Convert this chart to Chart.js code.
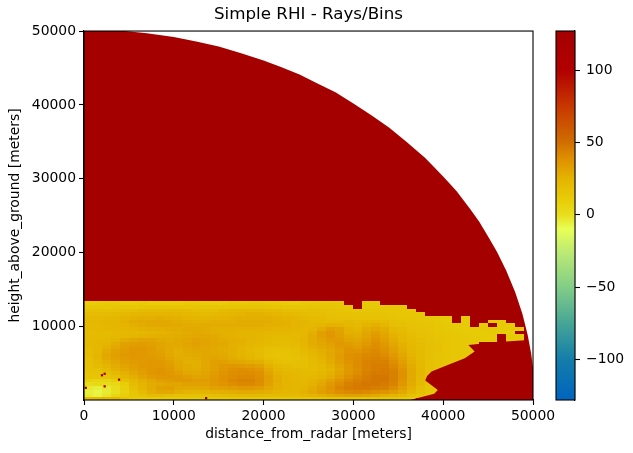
<!DOCTYPE html>
<html lang="en">
<head>
    <meta charset="UTF-8">
    <title>Simple RHI - Rays/Bins</title>
    <script src="https://cdn.jsdelivr.net/npm/chart.js"></script>
    <style>
        body { margin: 0; background: #fff; }
        canvas { position: absolute; top: 0; }
        #rhi { left: 0; }
        #colorbar { left: 545px; }
    </style>
</head>
<body>
    <canvas id="rhi" width="633" height="453"></canvas>
    <canvas id="colorbar" width="88" height="453"></canvas>

    <script>
        // axis ticks
        const xTicks = [0, 10000, 20000, 30000, 40000, 50000];
        const yTicks = [10000, 20000, 30000, 40000, 50000];
        const barTicks = [-100, -50, 0, 50, 100];

        // outer edge of the sweep
        const edgeX = [0, 4600, 7000, 10000, 12500, 15000, 17500, 20000, 22000, 24000, 26000, 28000, 30000, 32000, 34000, 36000, 38000, 40000, 41500, 43000, 44000, 45000, 46000, 47000, 48000, 48800, 49400, 49800, 50000, 50000];
        const edgeY = [50000, 50000, 49700, 49200, 48600, 47900, 47000, 46000, 45100, 44100, 42900, 41700, 40200, 38600, 36900, 34900, 32800, 30300, 28300, 25900, 24200, 22200, 20100, 17600, 14700, 11800, 8900, 6300, 4500, 50];
        // lower edge of the echo, where the fill value takes over again
        const wedgeX = [36300, 39000, 39400, 38000, 38200, 38700, 40500, 42400, 43500, 42800, 46100, 49100];
        const wedgeY = [50, 900, 1400, 2700, 3300, 3900, 4800, 5700, 6600, 7500, 7900, 8150];
        const FILL_VALUE = 127;

        // colormap stops
        const cmapValues = [-128, -100, -75, -50, -25, -10, 0, 10, 25, 40, 50, 75, 100, 127];
        const cmapColors = [
            [0, 100, 190], [20, 125, 170], [70, 165, 150], [130, 205, 135], [190, 235, 115],
            [232, 255, 85], [232, 222, 30], [232, 205, 8], [228, 180, 0], [222, 140, 0],
            [208, 110, 0], [200, 55, 0], [178, 0, 0], [165, 0, 0]
        ];

        // column centres of the echo grid, 1 km wide
        const columnX = [
            500, 1500, 2500, 3500, 4500, 5500, 6500, 7500, 8500, 9500,
            10500, 11500, 12500, 13500, 14500, 15500, 16500, 17500, 18500, 19500,
            20500, 21500, 22500, 23500, 24500, 25500, 26500, 27500, 28500, 29500,
            30500, 31500, 32500, 33500, 34500, 35500, 36500, 37500, 38500, 39500,
            40500, 41500, 42500, 43500, 44500, 45500, 46500, 47500, 48500, 49500
        ];
        const rowHeights = [
            13150, 12650, 12150, 11650, 11150, 10650, 10150, 9650, 9150,
            8650, 8150, 7650, 7150, 6650, 6150, 5650, 5150, 4650,
            4150, 3650, 3150, 2650, 2150, 1650, 1150, 650, 150
        ];

        // echo values per height row, top to bottom
        const row13150 = [10,10,11,11,10,10,11,10,10,10, 10,11,11,10,10,10,11,11,12,12, 11,11,10,10,11,12,12,13,13,127, 127,12,12];
        const row12650 = [13,13,13,14,14,14,14,15,15,15, 15,15,15,14,14,14,15,15,16,16, 15,15,14,14,14,15,15,15,14,14, 127,13,13,13,13,12];
        const row12150 = [17,17,17,18,18,19,20,20,20,21, 21,20,19,18,18,20,21,22,22,22, 21,20,19,18,18,18,18,17,16,15, 14,14,15,15,14,14,13];
        const row11650 = [20,20,20,21,22,23,24,25,25,25, 24,23,22,21,22,23,24,25,26,26, 25,24,22,21,20,19,19,18,17,17, 16,16,16,16,15,14,14,13];
        const row11150 = [22,22,23,23,25,26,27,27,28,27, 26,25,24,24,25,25,26,27,27,27, 27,26,25,24,22,21,20,19,18,18, 17,17,17,17,16,15,15,14,13,12, 12,127,11];
        const row10650 = [23,23,24,24,26,28,29,30,30,29, 28,27,26,26,27,27,27,28,28,28, 28,27,26,25,24,22,21,20,20,22, 20,21,22,20,18,17,16,15,14,13, 12,127,11,127,127,11,11];
        const row10150 = [22,22,23,24,25,27,28,29,30,29, 29,28,28,28,28,28,28,28,28,28, 27,27,26,25,24,23,24,26,25,23, 22,25,27,24,19,18,17,16,15,14, 13,12,12,127,11,127,11,11];
        const row9650 = [22,22,23,23,24,25,26,27,27,28, 28,29,29,28,27,27,27,26,26,26, 26,25,25,24,23,24,28,33,31,26, 24,28,30,28,22,20,18,17,16,14, 13,12,11,11,12,12,11,11,10];
        const row9150 = [20,21,21,22,22,23,23,24,25,26, 27,28,29,28,27,26,26,25,25,25, 24,24,23,22,23,27,33,36,32,27, 26,30,33,29,24,21,19,18,16,15, 14,13,12,11,11,12,11,10];
        const row8650 = [21,21,21,22,23,24,25,26,27,27, 28,29,30,30,29,27,26,25,25,24, 23,22,22,22,24,28,33,36,33,29, 28,31,35,31,26,23,20,18,17,16, 15,14,12,12,11,11,127,11,11];
        const row8150 = [22,22,23,24,28,30,31,31,29,28, 29,30,32,31,30,28,27,26,25,24, 22,21,21,22,25,28,31,34,34,31, 30,33,37,33,28,24,21,19,18,16, 15,14,13,12,12,11,127,11,11];
        const row7650 = [22,23,24,28,32,33,34,33,31,29, 29,31,32,31,30,29,27,26,24,23, 21,20,20,21,24,28,30,32,35,34, 32,35,39,35,30,26,22,20,18,17, 15,14,13,12];
        const row7150 = [21,22,26,30,33,35,35,34,31,29, 28,30,31,30,29,28,27,25,23,21, 19,18,19,20,23,26,29,31,34,36, 34,38,40,37,32,27,23,20,18,17, 15,14,13,12];
        const row6650 = [20,23,28,32,34,36,36,34,32,29, 27,29,30,30,29,28,27,25,22,20, 18,17,17,19,21,24,27,30,33,37, 37,39,41,38,33,28,24,21,18,17, 15,14,13,12];
        const row6150 = [20,24,30,33,35,36,35,34,33,30, 27,28,29,30,30,29,27,25,23,20, 17,16,16,18,20,23,26,30,34,38, 39,41,42,40,35,30,25,21,18,16, 15,14,13,12];
        const row5650 = [19,23,29,32,34,35,35,35,34,31, 28,27,28,30,31,30,28,26,24,22, 19,17,16,17,19,22,25,29,34,38, 40,42,43,42,37,31,26,21,18,16, 15,14,13];
        const row5150 = [19,22,27,30,33,34,35,36,35,33, 29,27,27,30,33,33,31,30,28,27, 22,19,18,18,19,21,24,28,33,37, 40,43,44,44,39,33,27,22,18,16, 14,13];
        const row4650 = [18,20,24,28,31,33,35,36,36,34, 30,28,27,30,33,35,36,35,34,32, 26,22,20,19,19,20,22,26,31,36, 40,43,45,45,41,35,28,22,18,16, 14];
        const row4150 = [17,18,21,26,29,32,34,36,37,35, 31,28,28,30,33,36,38,39,38,36, 29,24,22,21,20,20,22,25,30,35, 39,43,45,46,43,37,29,23,18,16];
        const row3650 = [16,16,18,22,26,30,33,36,37,36, 33,30,29,31,34,37,39,40,40,38, 31,26,24,22,21,21,23,26,31,36, 40,44,46,46,44,38,29,23,18];
        const row3150 = [15,14,15,18,23,27,31,34,36,36, 35,33,31,32,35,38,40,41,41,39, 33,27,25,23,22,23,25,28,33,38, 42,45,47,47,44,38,29,22,18];
        const row2650 = [8,6,6,10,18,23,27,30,33,34, 35,35,34,34,36,38,41,43,43,40, 33,28,25,24,23,25,28,32,37,41, 44,46,47,47,44,37,29,22,17];
        const row2150 = [1,3,2,4,10,20,25,28,30,31, 31,32,32,33,35,37,39,41,41,39, 32,27,25,24,24,26,30,35,40,44, 46,47,47,46,43,36,28,21,16];
        const row1650 = [-3,-5,-3,1,8,18,24,28,32,33, 30,29,29,30,32,33,34,35,35,34, 30,27,25,24,25,28,32,37,42,45, 46,46,45,44,40,33,26,19,15,14];
        const row1150 = [-5,-7,-4,0,7,15,21,27,30,30, 27,25,24,25,26,27,28,29,29,28, 27,25,24,24,26,29,33,36,39,41, 42,41,39,37,34,29,23,18,14,13];
        const row650 = [-4,-6,-2,5,10,14,17,20,20,19, 18,17,17,18,19,20,21,22,22,22, 21,21,21,21,23,25,27,29,31,32, 32,31,29,27,25,22,18,15,13];
        const row150 = [20,22,22,22,16,12,11,11,11,12, 12,12,12,13,13,13,14,14,14,13, 13,13,13,13,14,14,14,15,15,15, 15,14,14,13,13,12,11];
        const echoRows = [
            row13150, row12650, row12150, row11650, row11150, row10650, row10150, row9650, row9150,
            row8650, row8150, row7650, row7150, row6650, row6150, row5650, row5150, row4650,
            row4150, row3650, row3150, row2650, row2150, row1650, row1150, row650, row150
        ];

        // isolated fill-value gates inside the echo
        const gateX = [2300, 2000, 3900, 200, 2300, 13600];
        const gateY = [3600, 3400, 2800, 1700, 1900, 300];

        function colorFor(value) {
            let i = 0;
            while (i < cmapValues.length - 2 && value > cmapValues[i + 1]) i++;
            const t = (value - cmapValues[i]) / (cmapValues[i + 1] - cmapValues[i]);
            const c = cmapColors[i].map((v, k) => Math.round(v + (cmapColors[i + 1][k] - v) * t));
            return 'rgb(' + c.join(',') + ')';
        }

        // each echo cell is a point drawn with a small rectangle sized from the scales
        const cellCache = {};
        function cellStyle(ctx) {
            const xs = ctx.chart.scales.x;
            const ys = ctx.chart.scales.y;
            const w = Math.max(1, Math.ceil(xs.getPixelForValue(1000) - xs.getPixelForValue(0)) || 1);
            const h = Math.max(1, Math.ceil(ys.getPixelForValue(0) - ys.getPixelForValue(500)) || 1);
            const key = ctx.raw.v + '_' + w + '_' + h;
            if (!cellCache[key]) {
                const cell = document.createElement('canvas');
                cell.width = w;
                cell.height = h;
                const g = cell.getContext('2d');
                g.fillStyle = colorFor(ctx.raw.v);
                g.fillRect(0, 0, w, h);
                cellCache[key] = cell;
            }
            return cellCache[key];
        }

        const echoPoints = [];
        echoRows.forEach((row, r) => {
            row.forEach((value, c) => {
                echoPoints.push({ x: columnX[c], y: rowHeights[r], v: value });
            });
        });

        const spines = {
            id: 'spines',
            afterDraw(chart) {
                const a = chart.chartArea;
                const ctx = chart.ctx;
                ctx.save();
                ctx.strokeStyle = '#000';
                ctx.lineWidth = 1.1;
                ctx.strokeRect(a.left, a.top, a.right - a.left, a.bottom - a.top);
                ctx.restore();
            }
        };

        Chart.defaults.font.family = '"DejaVu Sans"';
        Chart.defaults.font.size = 13.9;
        Chart.defaults.color = '#000';

        new Chart(document.getElementById('rhi'), {
            type: 'scatter',
            data: {
                datasets: [
                    {
                        label: 'gates',
                        order: 1,
                        data: gateX.map((x, i) => ({ x: x, y: gateY[i] })),
                        pointStyle: 'rect',
                        pointRadius: 1.6,
                        pointBackgroundColor: colorFor(FILL_VALUE),
                        pointBorderWidth: 0
                    },
                    {
                        label: 'wedge',
                        order: 2,
                        data: wedgeX.map((x, i) => ({ x: x, y: wedgeY[i] })),
                        showLine: true,
                        fill: 'start',
                        borderWidth: 0,
                        backgroundColor: colorFor(FILL_VALUE),
                        pointRadius: 0
                    },
                    {
                        label: 'echo',
                        order: 3,
                        data: echoPoints,
                        pointStyle: cellStyle,
                        pointRadius: 3
                    },
                    {
                        label: 'sweep',
                        order: 4,
                        data: edgeX.map((x, i) => ({ x: x, y: edgeY[i] })),
                        showLine: true,
                        fill: 'start',
                        borderWidth: 0,
                        backgroundColor: colorFor(FILL_VALUE),
                        pointRadius: 0
                    }
                ]
            },
            options: {
                responsive: false,
                animation: false,
                layout: { padding: { right: 100 } },
                plugins: {
                    legend: { display: false },
                    tooltip: { enabled: false },
                    title: {
                        display: true,
                        text: 'Simple RHI - Rays/Bins',
                        fullSize: false,
                        color: '#000',
                        font: { size: 16.7, weight: 'normal' },
                        padding: { top: 5, bottom: 6 }
                    }
                },
                scales: {
                    x: {
                        type: 'linear',
                        min: 0,
                        max: 50000,
                        afterBuildTicks: scale => { scale.ticks = xTicks.map(v => ({ value: v })); },
                        afterFit: scale => { scale.height = 53; },
                        ticks: { autoSkip: false, maxRotation: 0, padding: 3, callback: v => String(v) },
                        grid: { drawOnChartArea: false, color: '#000', tickLength: 5, tickWidth: 1.1 },
                        border: { color: '#000', width: 1.1 },
                        title: { display: true, text: 'distance_from_radar [meters]', padding: { top: 2, bottom: 10 } }
                    },
                    y: {
                        type: 'linear',
                        min: 50,
                        max: 50000,
                        afterBuildTicks: scale => { scale.ticks = yTicks.map(v => ({ value: v })); },
                        afterFit: scale => { scale.width = 84; },
                        ticks: { autoSkip: false, padding: 3, callback: v => String(v) },
                        grid: { drawOnChartArea: false, color: '#000', tickLength: 5, tickWidth: 1.1 },
                        border: { color: '#000', width: 1.1 },
                        title: { display: true, text: 'height_above_ground [meters]', padding: { top: 7, bottom: 6 } }
                    }
                }
            },
            plugins: [spines]
        });

        // colorbar: one floating bar over the whole range, filled from the colormap stops
        const barRange = [cmapValues[0], cmapValues[cmapValues.length - 1]];

        function barGradient(ctx) {
            const scale = ctx.chart.scales.y;
            if (!scale) return colorFor(0);
            const bottom = scale.getPixelForValue(barRange[0]);
            const top = scale.getPixelForValue(barRange[1]);
            if (!isFinite(bottom) || !isFinite(top)) return colorFor(0);
            const grad = ctx.chart.ctx.createLinearGradient(0, bottom, 0, top);
            cmapValues.forEach((v, i) => {
                grad.addColorStop((v - barRange[0]) / (barRange[1] - barRange[0]), 'rgb(' + cmapColors[i].join(',') + ')');
            });
            return grad;
        }

        new Chart(document.getElementById('colorbar'), {
            type: 'bar',
            data: {
                labels: [''],
                datasets: [{
                    data: [barRange],
                    backgroundColor: barGradient,
                    borderWidth: 0,
                    categoryPercentage: 1,
                    barPercentage: 1
                }]
            },
            options: {
                responsive: false,
                animation: false,
                layout: { padding: { left: 11, top: 31, bottom: 53 } },
                plugins: { legend: { display: false }, tooltip: { enabled: false } },
                scales: {
                    x: { display: false },
                    y: {
                        position: 'right',
                        min: barRange[0],
                        max: barRange[1],
                        afterBuildTicks: scale => { scale.ticks = barTicks.map(v => ({ value: v })); },
                        afterFit: scale => { scale.width = 58; },
                        ticks: { autoSkip: false, padding: 6, callback: v => String(v).replace('-', '\u2212') },
                        grid: { drawOnChartArea: false, color: '#000', tickLength: 5, tickWidth: 1.1 },
                        border: { color: '#000', width: 1.1 }
                    }
                }
            },
            plugins: [spines]
        });
    </script>
</body>
</html>
